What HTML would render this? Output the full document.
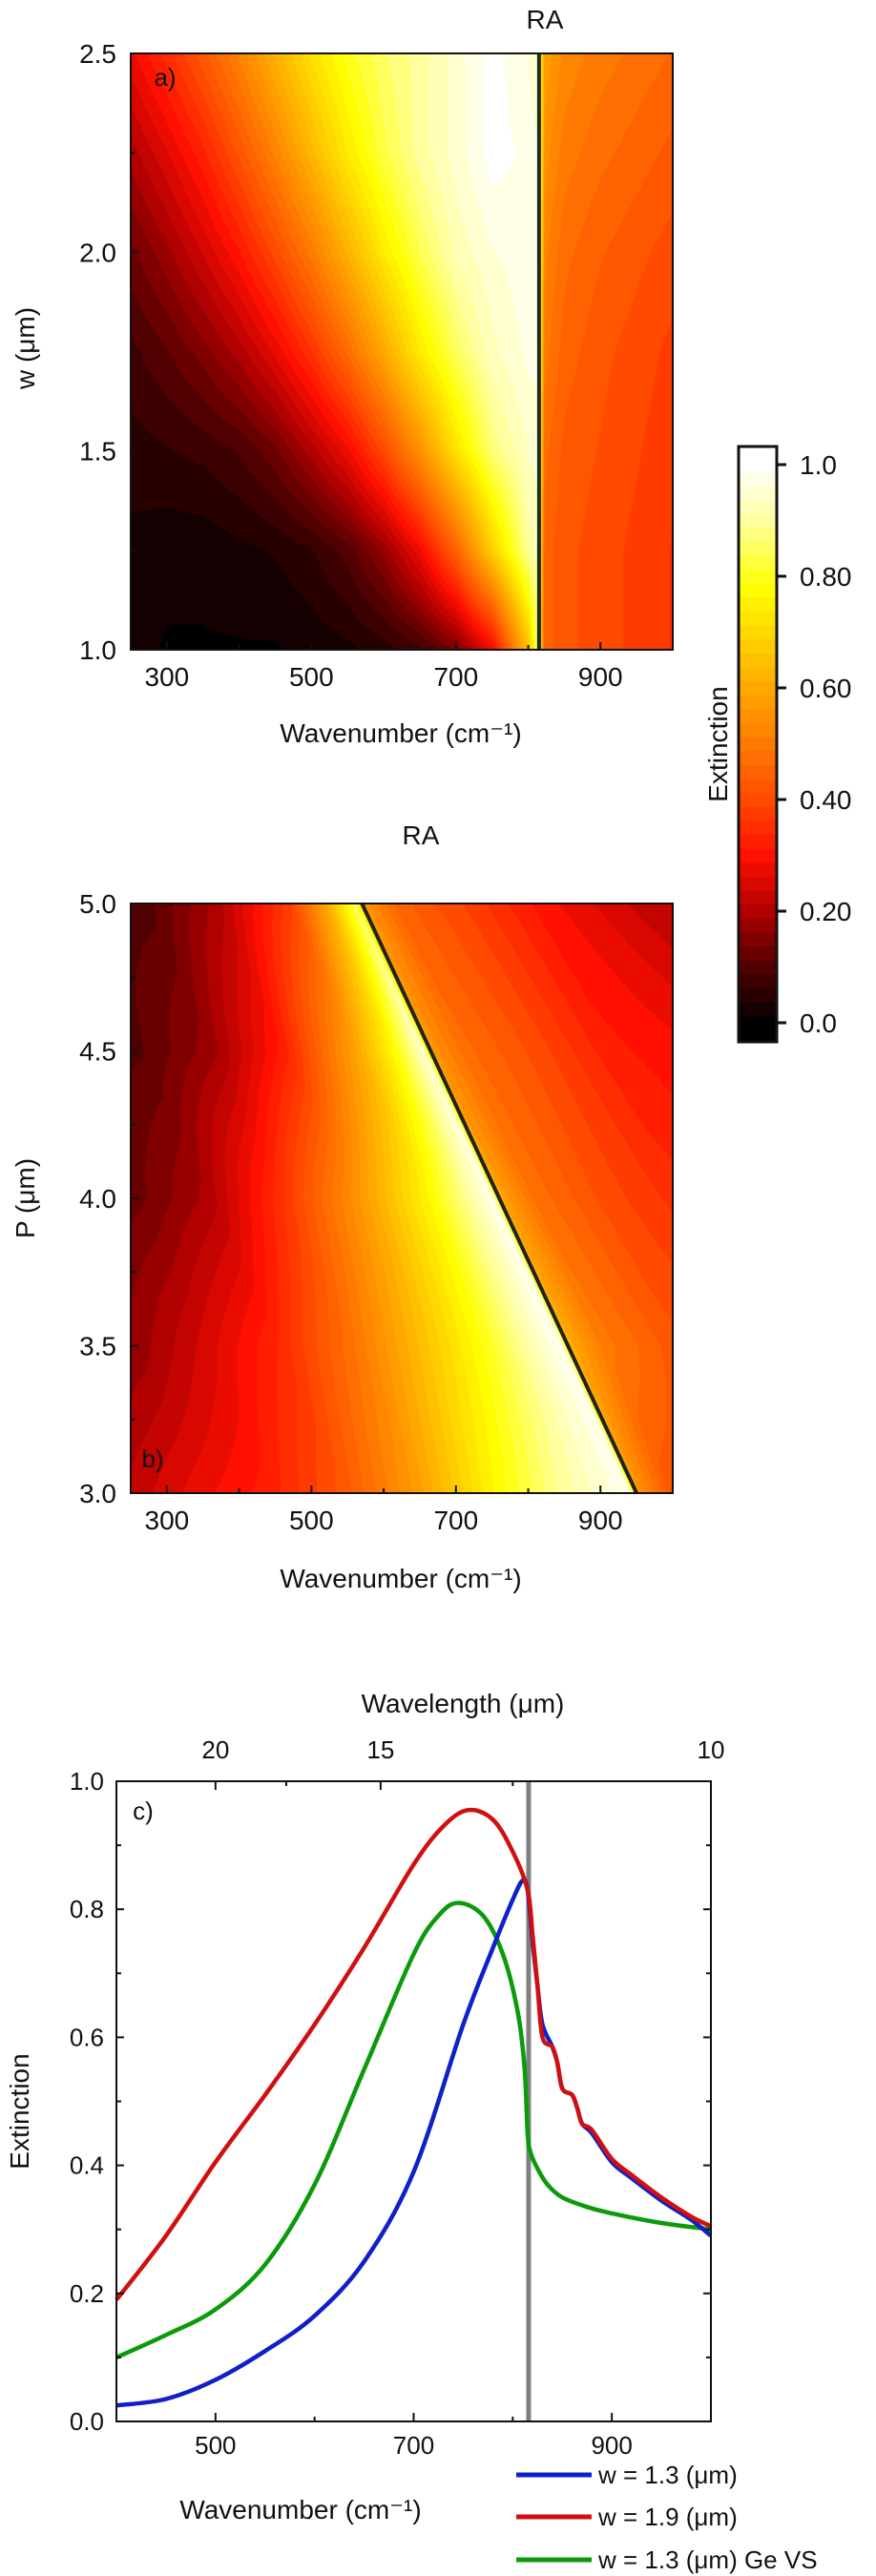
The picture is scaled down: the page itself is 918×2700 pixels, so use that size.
<!DOCTYPE html>
<html><head><meta charset="utf-8">
<style>
html,body{margin:0;padding:0;background:#fff;}
body{width:918px;height:2700px;position:relative;overflow:hidden;font-family:"Liberation Sans",sans-serif;}
canvas{position:absolute;}
svg{position:absolute;left:0;top:0;}
</style></head>
<body>
<canvas id="ca" style="left:137px;top:56px" width="568" height="625"></canvas>
<canvas id="cb" style="left:137px;top:947px" width="568" height="618"></canvas>
<canvas id="cbar" style="left:774px;top:468px" width="40" height="624"></canvas>
<svg id="ov" width="918" height="2700"></svg>
<script>
// ---------- Panel a data ----------
const aX = [250,300,350,400,450,500,550,600,650,700,750,800,812,822,850,900,950,1000];
const aW = [1.0,1.25,1.5,1.75,2.0,2.25,2.5];
const aV = [
[.02,.01,.01,.01,.01,.02,.03,.05,.08,.14,.28,.65,.86,.45,.42,.40,.38,.36],
[.03,.02,.02,.03,.04,.06,.1,.17,.28,.45,.68,.9,.92,.45,.42,.40,.38,.36],
[.05,.06,.07,.09,.13,.2,.28,.4,.55,.72,.87,.94,.95,.47,.43,.41,.39,.37],
[.08,.11,.15,.2,.27,.36,.47,.6,.74,.85,.93,.97,.97,.5,.45,.42,.40,.38],
[.13,.18,.24,.31,.4,.5,.62,.74,.84,.92,.96,.98,.98,.52,.47,.44,.42,.40],
[.2,.26,.33,.42,.52,.63,.74,.83,.9,.95,1.0,.98,.97,.55,.5,.47,.45,.43],
[.28,.35,.43,.52,.62,.72,.8,.86,.9,.95,1.0,.96,.93,.58,.53,.5,.48,.46]];
const aRA = 815;
// ---------- Panel b data (columns are offsets from RA line) ----------
const bOff = [-700,-600,-500,-400,-300,-200,-100,-50,-10,5,50,150,250,400];
const bP = [3.0,3.5,4.0,4.5,5.0];
const bV = [
[.22,.28,.33,.43,.58,.76,.9,.95,.98,.55,.42,.38,.35,.32],
[.12,.17,.25,.34,.48,.65,.82,.92,.99,.6,.5,.42,.38,.35],
[.07,.09,.13,.2,.36,.55,.76,.88,.98,.58,.48,.4,.35,.3],
[.05,.06,.08,.11,.18,.33,.6,.78,.95,.55,.47,.4,.32,.28],
[.05,.05,.06,.08,.1,.2,.38,.6,.85,.55,.45,.38,.3,.22]];
const bRAP = [3.0,5.0];
const bRAW = [950,570];
// ---------- Panel c data ----------
const redX = [400,450,500,550,600,650,700,730,755,780,800,815,820,825,830,840,845,850,860,865,870,880,900,920,950,980,1000];
const redY = [.19,.29,.405,.51,.62,.74,.87,.93,.955,.94,.89,.83,.76,.68,.60,.585,.56,.52,.51,.49,.465,.455,.41,.385,.35,.32,.305];
const blueX = [400,450,500,550,600,650,700,750,780,800,810,815,820,825,830,840,845,850,860,865,870,880,900,920,950,980,1000];
const blueY = [.025,.035,.065,.11,.165,.25,.39,.62,.74,.815,.845,.83,.75,.68,.62,.585,.56,.52,.51,.49,.465,.45,.405,.38,.345,.315,.29];
const greenX = [400,450,500,550,600,650,700,725,745,770,790,805,812,815,818,825,835,850,875,900,950,1000];
const greenY = [.10,.135,.175,.245,.37,.55,.73,.79,.81,.79,.73,.64,.55,.45,.42,.395,.37,.35,.335,.325,.31,.30];
const cXTicks = [500,700,900];
const cYTicks = [0.0,0.2,0.4,0.6,0.8,1.0];
const cTopTicks = [20,15,10];
const cbTicks = [0.0,0.2,0.4,0.6,0.8,1.0];
const cbLabels = ["0.0","0.20","0.40","0.60","0.80","1.0"];

const stops=[[0,[0,0,0]],[0.1,[80,0,0]],[0.2,[176,0,0]],[0.3,[255,16,0]],[0.4,[255,74,0]],[0.5,[255,122,0]],[0.6,[255,168,0]],[0.7,[255,216,0]],[0.78,[255,255,0]],[0.9,[255,255,160]],[1.0,[255,255,255]]];
function cmap(v){v=Math.max(0,Math.min(1,Math.round(v*40)/40));
 for(let i=1;i<stops.length;i++){if(v<=stops[i][0]){const a=stops[i-1],b=stops[i];const t=(v-a[0])/(b[0]-a[0]);return a[1].map((c,k)=>Math.round(c+(b[1][k]-c)*t));}}
 return [255,255,255];}
function seg(arr,v){let i=0;while(i<arr.length-2&&v>arr[i+1])i++;let t=(v-arr[i])/(arr[i+1]-arr[i]);t=Math.max(0,Math.min(1,t));return [i,t];}
function bil(xs,ys,V,x,y){const [i,tx]=seg(xs,x),[j,ty]=seg(ys,y);
 const a=V[j][i]*(1-tx)+V[j][i+1]*tx,b=V[j+1][i]*(1-tx)+V[j+1][i+1]*tx;return a*(1-ty)+b*ty;}
function drawCanvas(id,fn){const c=document.getElementById(id),ctx=c.getContext('2d');const im=ctx.createImageData(c.width,c.height);
 for(let py=0;py<c.height;py++)for(let px=0;px<c.width;px++){const col=cmap(fn(px,py,c.width,c.height));const o=(py*c.width+px)*4;im.data[o]=col[0];im.data[o+1]=col[1];im.data[o+2]=col[2];im.data[o+3]=255;}
 ctx.putImageData(im,0,0);}
drawCanvas('ca',(px,py,w,h)=>{const x=250+px/w*750,y=2.5-py/h*1.5;return bil(aX,aW,aV,x,y);});
function raB(P){return bRAW[0]+(P-bRAP[0])/(bRAP[1]-bRAP[0])*(bRAW[1]-bRAW[0]);}
drawCanvas('cb',(px,py,w,h)=>{const x=250+px/w*750,P=5-py/h*2;return bil(bOff,bP,bV,x-raB(P),P);});
drawCanvas('cbar',(px,py,w,h)=>{return 1.0+(487-468-py)/585;});

const NS='http://www.w3.org/2000/svg',svg=document.getElementById('ov');
function el(tag,attrs,txt){const e=document.createElementNS(NS,tag);for(const k in attrs)e.setAttribute(k,attrs[k]);if(txt!==undefined)e.textContent=txt;svg.appendChild(e);return e;}
const F='"Liberation Sans",sans-serif';
function text(x,y,s,size,anchor,name,rot){const e=el('text',{x:x,y:y,'font-size':size,'font-family':F,'text-anchor':anchor||'middle',fill:'#111'},s);
 if(rot)e.setAttribute('transform','rotate(-90 '+x+' '+y+')');
 
 return e;}
function line(x1,y1,x2,y2,c,w,name){const e=el('line',{x1,y1,x2,y2,stroke:c,'stroke-width':w});
 
 return e;}

// Panel a axes
const A={l:137,r:705,t:56,b:681};
function axX(x){return A.l+(x-250)/750*(A.r-A.l);}
function ayW(w){return A.b-(w-1)/1.5*(A.b-A.t);}
line(axX(aRA),A.t,axX(aRA),A.b,'#1e2a1e',4,'resonance-line-a');
let f=el('rect',{x:A.l,y:A.t,width:A.r-A.l,height:A.b-A.t,fill:'none',stroke:'#111','stroke-width':2});

[300,500,700,900].forEach(v=>{line(axX(v),A.b,axX(v),A.b-8,'#111',2,'x-tick-a');text(axX(v),A.b+38,String(v),28,'middle','x-tick-label-a');});
[400,600,800].forEach(v=>line(axX(v),A.b,axX(v),A.b-5,'#111',2,'x-minor-tick-a'));
[1.0,1.5,2.0,2.5].forEach(v=>{line(A.l,ayW(v),A.l+8,ayW(v),'#111',2,'y-tick-a');text(A.l-15,ayW(v)+10,v.toFixed(1),28,'end','y-tick-label-a');});
[1.25,1.75,2.25].forEach(v=>line(A.l,ayW(v),A.l+5,ayW(v),'#111',2,'y-minor-tick-a'));
text(571,30,'RA',28,'middle','title-ra-a');
text(173,90,'a)',26,'middle','panel-label-a');
text(420,778,'Wavenumber (cm\u207B\u00B9)',28,'middle','x-axis-title-a');
text(36,365,'w (\u03BCm)',28,'middle','y-axis-title-a',true);

// Panel b axes
const B={l:137,r:705,t:947,b:1565};
function byP(p){return B.b-(p-3)/2*(B.b-B.t);}
line(axX(bRAW[1]),byP(bRAP[1]),axX(bRAW[0]),byP(bRAP[0]),'#222',4,'resonance-line-b');
f=el('rect',{x:B.l,y:B.t,width:B.r-B.l,height:B.b-B.t,fill:'none',stroke:'#111','stroke-width':2});

[300,500,700,900].forEach(v=>{line(axX(v),B.b,axX(v),B.b-8,'#111',2,'x-tick-b');text(axX(v),B.b+38,String(v),28,'middle','x-tick-label-b');});
[400,600,800].forEach(v=>line(axX(v),B.b,axX(v),B.b-5,'#111',2,'x-minor-tick-b'));
[3.0,3.5,4.0,4.5,5.0].forEach(v=>{line(B.l,byP(v),B.l+8,byP(v),'#111',2,'y-tick-b');text(B.l-15,byP(v)+10,v.toFixed(1),28,'end','y-tick-label-b');});
[3.25,3.75,4.25,4.75].forEach(v=>line(B.l,byP(v),B.l+5,byP(v),'#111',2,'y-minor-tick-b'));
text(441,885,'RA',28,'middle','title-ra-b');
text(160,1538,'b)',26,'middle','panel-label-b');
text(420,1664,'Wavenumber (cm\u207B\u00B9)',28,'middle','x-axis-title-b');
text(36,1256,'P (\u03BCm)',28,'middle','y-axis-title-b',true);

// Colorbar
f=el('rect',{x:774,y:468,width:40,height:624,fill:'none',stroke:'#111','stroke-width':3});

function cbY(v){return 1072-v*585;}
cbTicks.forEach((v,i)=>{line(814,cbY(v),824,cbY(v),'#111',3,'colorbar-tick');text(838,cbY(v)+10,cbLabels[i],28,'start','colorbar-tick-label');});
text(762,780,'Extinction',28,'middle','colorbar-title',true);

// Panel c
const C={l:122,r:745,t:1867,b:2538};
function cx(x){return C.l+(x-400)/600*(C.r-C.l);}
function cy(y){return C.b-y*(C.b-C.t);}
line(cx(816),C.t,cx(816),C.b,'#808080',5,'resonance-line-c');
function path(xs,ys,color,name){const P=xs.map((x,i)=>[cx(x),cy(ys[i])]);
 let d='M'+P[0][0].toFixed(1)+' '+P[0][1].toFixed(1);
 for(let i=0;i<P.length-1;i++){const p0=P[Math.max(0,i-1)],p1=P[i],p2=P[i+1],p3=P[Math.min(P.length-1,i+2)];
  const t=1/6;const c1=[p1[0]+(p2[0]-p0[0])*t,p1[1]+(p2[1]-p0[1])*t],c2=[p2[0]-(p3[0]-p1[0])*t,p2[1]-(p3[1]-p1[1])*t];
  d+='C'+c1[0].toFixed(1)+' '+c1[1].toFixed(1)+' '+c2[0].toFixed(1)+' '+c2[1].toFixed(1)+' '+p2[0].toFixed(1)+' '+p2[1].toFixed(1);}
 const p=el('path',{d:d,fill:'none',stroke:color,'stroke-width':4.5,'stroke-linejoin':'round'});
 
 }
path(greenX,greenY,'#0a9a0a','series-w13-ge-vs');
path(blueX,blueY,'#1020c8','series-w13');
path(redX,redY,'#d01010','series-w19');
f=el('rect',{x:C.l,y:C.t,width:C.r-C.l,height:C.b-C.t,fill:'none',stroke:'#111','stroke-width':2});

cXTicks.forEach(v=>{line(cx(v),C.b,cx(v),C.b-9,'#111',2,'x-tick-c');text(cx(v),C.b+34,String(v),26,'middle','x-tick-label-c');});
[600,800].forEach(v=>line(cx(v),C.b,cx(v),C.b-5,'#111',2,'x-minor-tick-c'));
cYTicks.forEach(v=>{line(C.l,cy(v),C.l+8,cy(v),'#111',2,'y-tick-c');line(C.r,cy(v),C.r-8,cy(v),'#111',2,'y-tick-right-c');text(C.l-13,cy(v)+9,v.toFixed(1),26,'end','y-tick-label-c');});
[0.1,0.3,0.5,0.7,0.9].forEach(v=>{line(C.l,cy(v),C.l+5,cy(v),'#111',2,'y-minor-tick-c');line(C.r,cy(v),C.r-5,cy(v),'#111',2,'y-minor-tick-right-c');});
cTopTicks.forEach(l=>{const x=cx(10000/l);line(x,C.t,x,C.t+9,'#111',2,'top-tick-c');text(x,1843,String(l),26,'middle','top-tick-label-c');});
[17.5,12.5].forEach(l=>line(cx(10000/l),C.t,cx(10000/l),C.t+5,'#111',2,'top-minor-tick-c'));
text(485,1795,'Wavelength (\u03BCm)',28,'middle','top-axis-title-c');
text(150,1907,'c)',26,'middle','panel-label-c');
text(315,2640,'Wavenumber (cm\u207B\u00B9)',28,'middle','x-axis-title-c');
text(30,2213,'Extinction',28,'middle','y-axis-title-c',true);
const legNames=['w = 1.3 (\u03BCm)','w = 1.9 (\u03BCm)','w = 1.3 (\u03BCm) Ge VS'];
const legColors=['#1020c8','#d01010','#0a9a0a'];
[2594,2638,2683].forEach((y,i)=>{line(541,y,620,y,legColors[i],5,'legend-swatch');text(627,y+9,legNames[i],26,'start','legend-entry');});
</script>
</body></html>
